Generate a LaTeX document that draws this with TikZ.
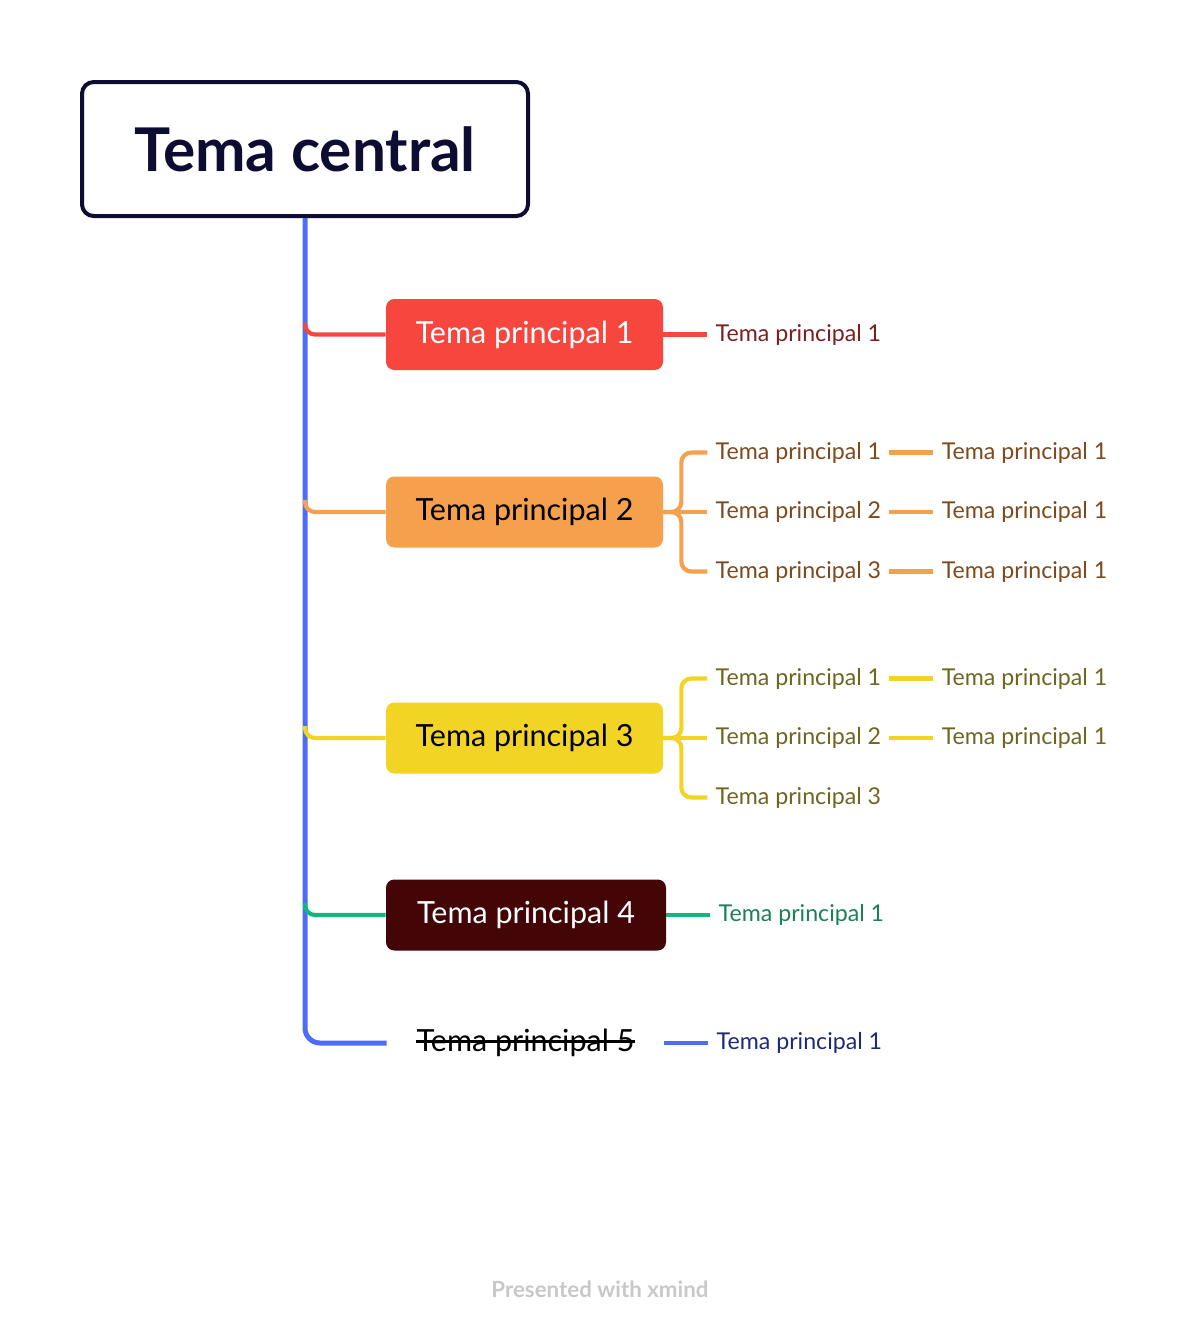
\documentclass[tikz,border=0pt]{standalone}
\usepackage{fontspec}
\setmainfont{Lato}
\usetikzlibrary{positioning}

\definecolor{navy1}{HTML}{0D0D33}
\definecolor{trunk}{HTML}{4C6EF5}
\definecolor{red1}{HTML}{F7463D}
\definecolor{orange1}{HTML}{F5A04C}
\definecolor{yellow1}{HTML}{F2D424}
\definecolor{maroon1}{HTML}{430505}
\definecolor{green1}{HTML}{10B97B}
\definecolor{redtxt}{HTML}{7B2020}
\definecolor{browntxt}{HTML}{7C4A1E}
\definecolor{olivetxt}{HTML}{6E6520}
\definecolor{greentxt}{HTML}{1B7F57}
\definecolor{navytxt}{HTML}{1E2A78}
\definecolor{foot}{HTML}{C8C8C8}

\begin{document}
\begin{tikzpicture}[x=0.6pt, y=-0.6pt, node distance=26.4pt,
    central/.style = {draw=navy1, line width=2.4pt, rounded corners=7pt, minimum width=267.6pt, minimum height=80.4pt, text=navy1, font=\fontsize{36.2}{43}\selectfont\bfseries},
    main/.style = {rounded corners=5pt, minimum width=166.2pt, minimum height=42.6pt, font=\fontsize{18.3}{22}\selectfont},
    sub/.style = {inner xsep=4.8pt, inner ysep=0pt, font=\fontsize{13.9}{17}\selectfont},
    link/.style = {line width=2.5pt, rounded corners=6pt}]

    \useasboundingbox (0,0) rectangle (1200,1330);

    \node[central] (0) at (305,149) {Tema central};

    \node[main, fill=red1, text=white] (1) at (524.5,334.5) {Tema principal 1};
    \node[main, fill=orange1, text=black] (2) at (524.5,512) {Tema principal 2};
    \node[main, fill=yellow1, text=black] (3) at (524.5,738) {Tema principal 3};
    \node[main, fill=maroon1, text=white, minimum width=168pt] (4) at (526,915) {Tema principal 4};
    \node[main] (5) at (525.5,1043) {};
    \node[inner sep=0pt, font=\fontsize{18.3}{22}\selectfont] (5s) at (5) {Tema principal 5};
    \draw[line width=1.4pt] ([yshift=6pt]5s.base west) -- ([yshift=6pt]5s.base east);

    % subtopics
    \node[sub, text=redtxt] (11) [right=of 1] {Tema principal 1};

    \node[sub, text=browntxt] (22) [right=of 2] {Tema principal 2};
    \node[sub, text=browntxt] (21) [right=of 2, yshift=35.7pt] {Tema principal 1};
    \node[sub, text=browntxt] (23) [right=of 2, yshift=-35.7pt] {Tema principal 3};
    \node[sub, text=browntxt] (211) [right=of 21] {Tema principal 1};
    \node[sub, text=browntxt] (221) [right=of 22] {Tema principal 1};
    \node[sub, text=browntxt] (231) [right=of 23] {Tema principal 1};

    \node[sub, text=olivetxt] (32) [right=of 3] {Tema principal 2};
    \node[sub, text=olivetxt] (31) [right=of 3, yshift=35.7pt] {Tema principal 1};
    \node[sub, text=olivetxt] (33) [right=of 3, yshift=-35.7pt] {Tema principal 3};
    \node[sub, text=olivetxt] (311) [right=of 31] {Tema principal 1};
    \node[sub, text=olivetxt] (321) [right=of 32] {Tema principal 1};

    \node[sub, text=greentxt] (41) [right=of 4] {Tema principal 1};
    \node[sub, text=navytxt] (51) [right=of 5] {Tema principal 1};

    \node[text=foot, font=\fontsize{13.4}{16}\selectfont\bfseries] (f) at (600,1289) {Presented with xmind};

    % trunk
    \draw[trunk, line width=3pt, rounded corners=9pt] (0.south) |- (5.west);
    \draw[link, red1] (0.south |- 1.west) ++(0,-12) |- (1.west);
    \draw[link, orange1] (0.south |- 2.west) ++(0,-12) |- (2.west);
    \draw[link, yellow1] (0.south |- 3.west) ++(0,-12) |- (3.west);
    \draw[link, green1] (0.south |- 4.west) ++(0,-12) |- (4.west);

    % right side
    \draw[link, red1] (1.east) -- (11.west);
    \draw[link, orange1] (2.east) -- (22.west);
    \draw[link, orange1] (2.east) -- ++(18,0) |- (21.west);
    \draw[link, orange1] (2.east) -- ++(18,0) |- (23.west);
    \draw[link, orange1] (21) -- (211);
    \draw[link, orange1] (22) -- (221);
    \draw[link, orange1] (23) -- (231);

    \draw[link, yellow1] (3.east) -- (32.west);
    \draw[link, yellow1] (3.east) -- ++(18,0) |- (31.west);
    \draw[link, yellow1] (3.east) -- ++(18,0) |- (33.west);
    \draw[link, yellow1] (31) -- (311);
    \draw[link, yellow1] (32) -- (321);

    \draw[link, green1] (4.east) -- (41.west);
    \draw[link, trunk] (5.east) -- (51.west);
\end{tikzpicture}
\end{document}
